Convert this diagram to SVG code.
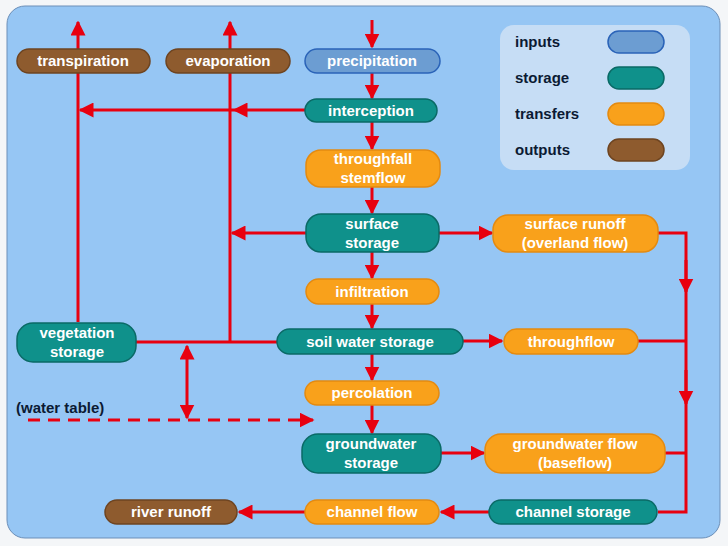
<svg xmlns="http://www.w3.org/2000/svg" width="728" height="546" viewBox="0 0 728 546">
<style>
.n{stroke-width:1.5}
.in{fill:#6C9DD2;stroke:#2A63B8}
.st{fill:#0F918B;stroke:#0A6A66}
.tr{fill:#F9A11B;stroke:#E48A10}
.ou{fill:#8E5B2E;stroke:#6E4420}
text{font-family:"Liberation Sans",Arial,sans-serif;font-weight:bold;font-size:15px;fill:#fff;text-anchor:middle}
.c{stroke:#E8000F;stroke-width:3;fill:none}
</style>
<defs>
<marker id="a" viewBox="0 0 10 10" refX="9" refY="5" markerWidth="5" markerHeight="5" orient="auto-start-reverse" markerUnits="strokeWidth"><path d="M0,0L10,5L0,10z" fill="#E8000F"/></marker>
</defs>
<rect width="728" height="546" fill="#F4F6F8"/>
<rect x="7" y="6" width="713" height="532" rx="18" fill="#96C6F4" stroke="#6C8FB8"/>
<g id="legend">
<rect x="500" y="25" width="190" height="145" rx="14" fill="#C6DDF5"/>
<text x="515" y="47" style="fill:#0B1A33;text-anchor:start">inputs</text>
<text x="515" y="83" style="fill:#0B1A33;text-anchor:start">storage</text>
<text x="515" y="119" style="fill:#0B1A33;text-anchor:start">transfers</text>
<text x="515" y="155" style="fill:#0B1A33;text-anchor:start">outputs</text>
<rect class="n in" x="608" y="31" width="56" height="22" rx="11"/>
<rect class="n st" x="608" y="67" width="56" height="22" rx="11"/>
<rect class="n tr" x="608" y="103" width="56" height="22" rx="11"/>
<rect class="n ou" x="608" y="139" width="56" height="22" rx="11"/>
</g>
<g id="connectors">
<path class="c" d="M372,20V47" marker-end="url(#a)"/>
<path class="c" d="M78,322V22" marker-end="url(#a)"/>
<path class="c" d="M230,341V22" marker-end="url(#a)"/>
<path class="c" d="M305,110H234" marker-end="url(#a)"/>
<path class="c" d="M234,110H80" marker-end="url(#a)"/>
<path class="c" d="M372,73V98" marker-end="url(#a)"/>
<path class="c" d="M372,122V149" marker-end="url(#a)"/>
<path class="c" d="M372,187V213" marker-end="url(#a)"/>
<path class="c" d="M306,233H232" marker-end="url(#a)"/>
<path class="c" d="M439,233H492" marker-end="url(#a)"/>
<path class="c" d="M372,252V278" marker-end="url(#a)"/>
<path class="c" d="M372,304V328" marker-end="url(#a)"/>
<path class="c" d="M372,354V380" marker-end="url(#a)"/>
<path class="c" d="M372,405V433" marker-end="url(#a)"/>
<path class="c" d="M463,341H502" marker-end="url(#a)"/>
<path class="c" d="M441,453H484" marker-end="url(#a)"/>
<path class="c" d="M658,233H686V512H658"/>
<path class="c" d="M686,260V292" marker-end="url(#a)"/>
<path class="c" d="M686,370V404" marker-end="url(#a)"/>
<path class="c" d="M638,341H686M665,453H686"/>
<path class="c" d="M489,512H441" marker-end="url(#a)"/>
<path class="c" d="M305,512H239" marker-end="url(#a)"/>
<path class="c" d="M136,342H277"/>
<path class="c" d="M187,346V418" marker-start="url(#a)" marker-end="url(#a)"/>
<path class="c" d="M28,420H313" stroke-dasharray="12,8" marker-end="url(#a)"/>
</g>
<text x="16" y="413" style="fill:#0B1A33;text-anchor:start">(water table)</text>
<g id="transpiration"><rect class="n ou" x="17" y="49" width="133" height="24" rx="12"/><text x="83" y="66">transpiration</text></g>
<g id="evaporation"><rect class="n ou" x="166" y="49" width="124" height="24" rx="12"/><text x="228" y="66">evaporation</text></g>
<g id="precipitation"><rect class="n in" x="305" y="49" width="135" height="24" rx="12" stroke-width="2"/><text x="372" y="66">precipitation</text></g>
<g id="interception"><rect class="n st" x="305" y="99" width="132" height="23" rx="11.5"/><text x="371" y="116">interception</text></g>
<g id="throughfall"><rect class="n tr" x="306" y="150" width="134" height="37" rx="15"/><text x="373" y="164">throughfall</text><text x="373" y="183">stemflow</text></g>
<g id="surface-storage"><rect class="n st" x="306" y="214" width="133" height="38" rx="15"/><text x="372" y="229">surface</text><text x="372" y="248">storage</text></g>
<g id="surface-runoff"><rect class="n tr" x="493" y="215" width="165" height="37" rx="15"/><text x="575" y="229">surface runoff</text><text x="575" y="248">(overland flow)</text></g>
<g id="infiltration"><rect class="n tr" x="306" y="279" width="133" height="25" rx="12.5"/><text x="372" y="297">infiltration</text></g>
<g id="soil-water-storage"><rect class="n st" x="277" y="329" width="186" height="25" rx="12.5"/><text x="370" y="347">soil water storage</text></g>
<g id="throughflow"><rect class="n tr" x="504" y="329" width="134" height="25" rx="12.5"/><text x="571" y="347">throughflow</text></g>
<g id="vegetation-storage"><rect class="n st" x="17" y="323" width="119" height="39" rx="16"/><text x="77" y="338">vegetation</text><text x="77" y="357">storage</text></g>
<g id="percolation"><rect class="n tr" x="305" y="381" width="134" height="24" rx="12"/><text x="372" y="398">percolation</text></g>
<g id="groundwater-storage"><rect class="n st" x="302" y="434" width="139" height="39" rx="16"/><text x="371" y="449">groundwater</text><text x="371" y="468">storage</text></g>
<g id="groundwater-flow"><rect class="n tr" x="485" y="434" width="180" height="39" rx="16"/><text x="575" y="449">groundwater flow</text><text x="575" y="468">(baseflow)</text></g>
<g id="channel-storage"><rect class="n st" x="489" y="500" width="168" height="24" rx="12"/><text x="573" y="517">channel storage</text></g>
<g id="channel-flow"><rect class="n tr" x="305" y="500" width="134" height="24" rx="12"/><text x="372" y="517">channel flow</text></g>
<g id="river-runoff"><rect class="n ou" x="105" y="500" width="132" height="24" rx="12"/><text x="171" y="517">river runoff</text></g>
</svg>
